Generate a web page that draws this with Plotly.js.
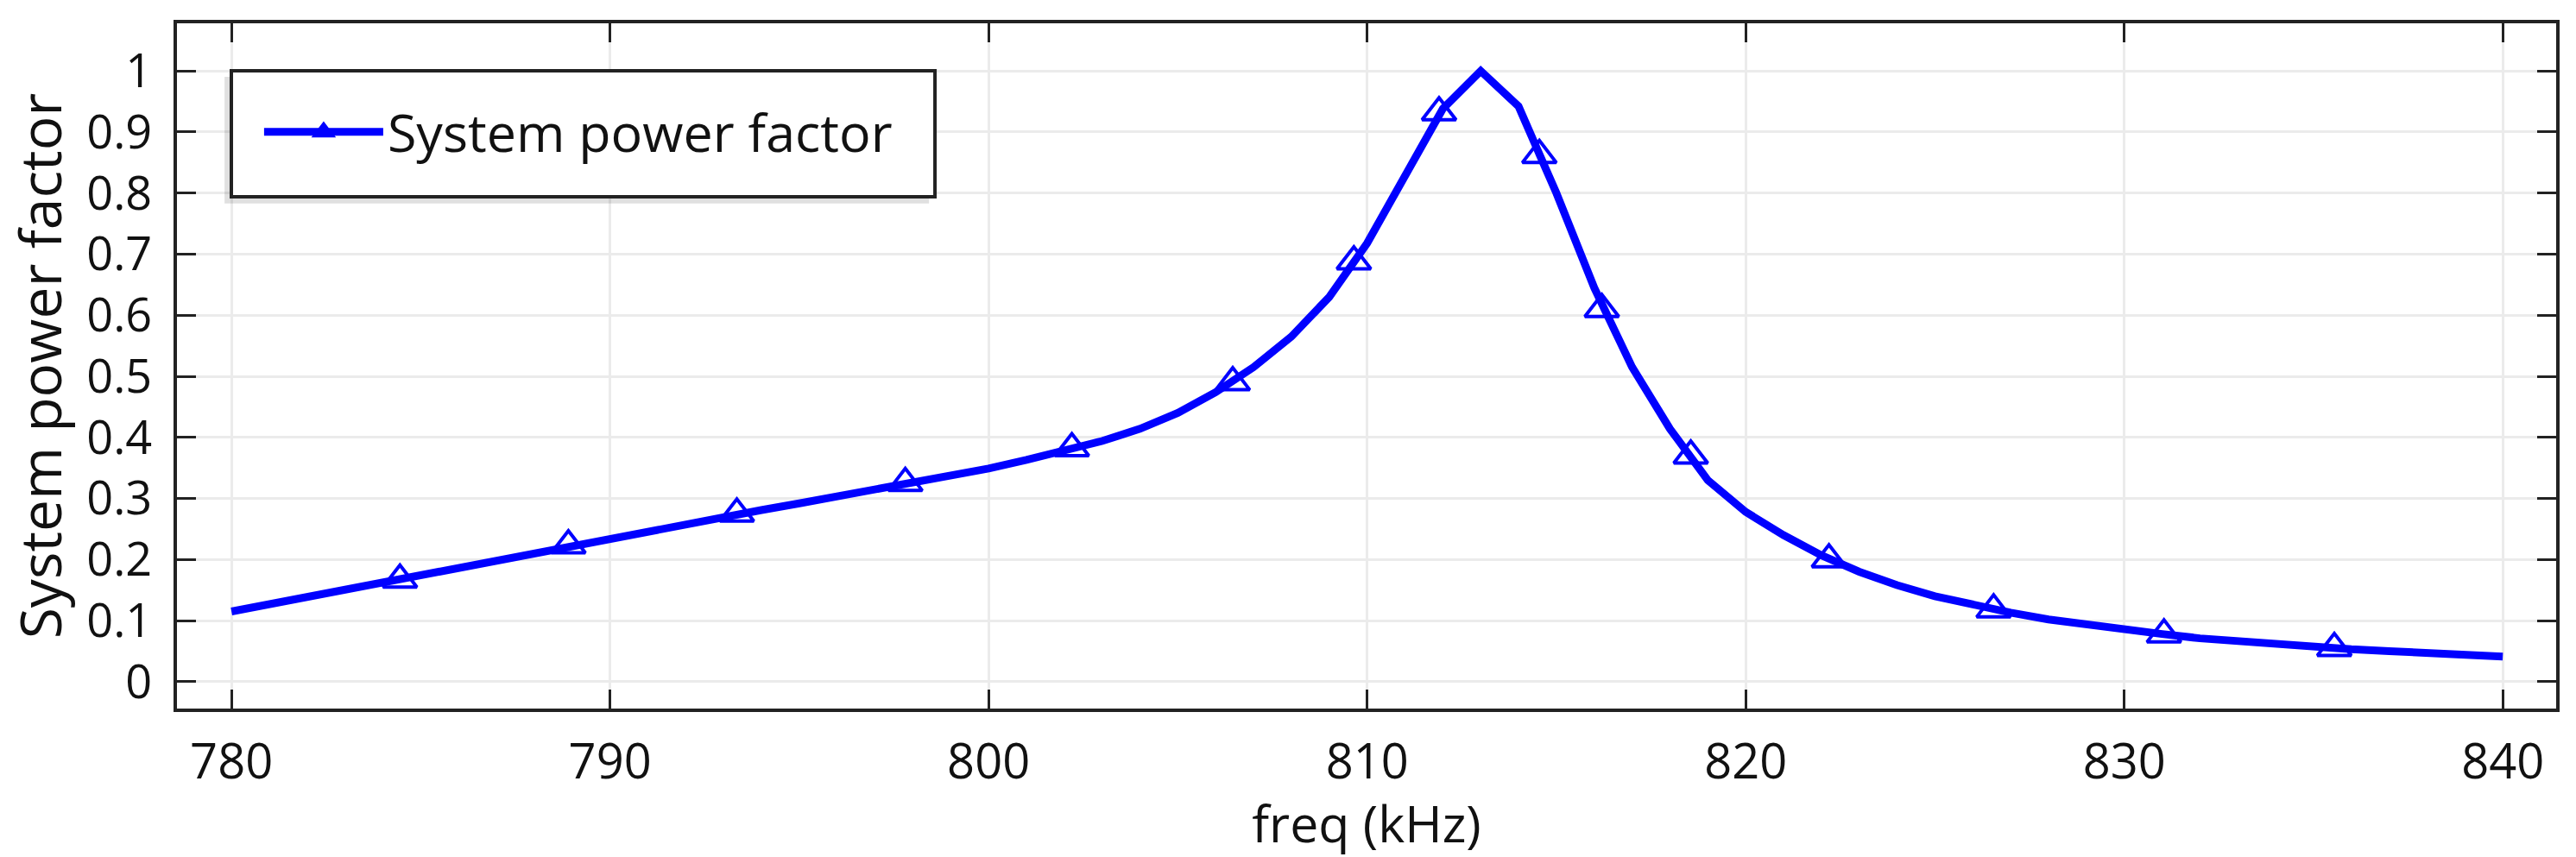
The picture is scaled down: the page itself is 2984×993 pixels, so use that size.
<!DOCTYPE html>
<html>
<head>
<meta charset="utf-8">
<script src="https://cdn.plot.ly/plotly-3.0.1.min.js"></script>
<style>
  html, body { margin: 0; padding: 0; background: #ffffff; }
  #chart { width: 2984px; height: 993px; }
</style>
</head>
<body>
<div id="chart"></div>
<script>
// Curve data: frequency (kHz) and system power factor
const freq = [780, 781, 782, 783, 784, 785, 786, 787, 788, 789,
              790, 791, 792, 793, 794, 795, 796, 797, 798, 799,
              800, 801, 802, 803, 804, 805, 806, 807, 808, 809,
              810, 811, 812, 813, 814, 815, 816, 817, 818, 819,
              820, 821, 822, 823, 824, 825, 826, 827, 828, 829,
              830, 831, 832, 833, 834, 835, 836, 837, 838, 839, 840];
const powerFactor = [0.115, 0.127, 0.140, 0.152, 0.164, 0.176, 0.188, 0.200, 0.212, 0.224,
                     0.235, 0.247, 0.258, 0.270, 0.281, 0.292, 0.303, 0.314, 0.325, 0.336,
                     0.349, 0.363, 0.378, 0.394, 0.414, 0.440, 0.474, 0.515, 0.565, 0.630,
                     0.718, 0.830, 0.938, 1.000, 0.942, 0.800, 0.645, 0.515, 0.414, 0.330,
                     0.278, 0.240, 0.207, 0.180, 0.158, 0.140, 0.125, 0.113, 0.102, 0.093,
                     0.085, 0.078, 0.071, 0.066, 0.061, 0.057, 0.053, 0.050, 0.047, 0.044, 0.041];

// Marker positions along the curve
const markerFreq = [784.45, 788.9, 793.35, 797.8, 802.2, 806.45, 809.65, 811.9,
                    814.55, 816.2, 818.55, 822.2, 826.55, 831.05, 835.55];
const markerPF = [0.167, 0.223, 0.275, 0.325, 0.382, 0.490, 0.688, 0.932,
                  0.862, 0.610, 0.370, 0.200, 0.118, 0.077, 0.055];

const seriesName = 'System power factor';
const xTitle = 'freq (kHz)';
const yTitle = 'System power factor';
const xTicks = [780, 790, 800, 810, 820, 830, 840];
const yTicks = [0, 0.1, 0.2, 0.3, 0.4, 0.5, 0.6, 0.7, 0.8, 0.9, 1];

const BLUE = '#0000ff';
const FONT = '"Open Sans", "Liberation Sans", sans-serif';

const traces = [
  {
    x: freq, y: powerFactor, type: 'scatter', mode: 'lines',
    line: { color: BLUE, width: 9 }, showlegend: false, hoverinfo: 'skip'
  },
  {
    x: markerFreq, y: markerPF, type: 'scatter', mode: 'markers',
    marker: { symbol: 'triangle-up-open', size: 34, color: BLUE, line: { color: BLUE, width: 4 } },
    showlegend: false, hoverinfo: 'skip'
  },
  {
    x: [null], y: [null], type: 'scatter', mode: 'lines+markers', name: seriesName,
    line: { color: BLUE, width: 9 },
    marker: { symbol: 'triangle-up-open', size: 34, color: BLUE, line: { color: BLUE, width: 5 } },
    showlegend: true
  }
];

const layout = {
  width: 2984, height: 993,
  paper_bgcolor: '#ffffff', plot_bgcolor: '#ffffff',
  margin: { l: 205, r: 23, t: 27, b: 172, pad: 0 },
  font: { family: FONT, color: '#111111', size: 56 },
  showlegend: true,
  legend: {
    x: 0.0348, xanchor: 'left', y: 0.8413, yanchor: 'middle',
    bgcolor: 'rgba(0,0,0,0)', borderwidth: 0,
    itemwidth: 138, font: { family: FONT, size: 61, color: '#111111' }
  },
  xaxis: {
    range: [778.56, 841.41], tickvals: xTicks, ticktext: xTicks.map(String),
    showgrid: true, gridcolor: '#ebebeb', gridwidth: 3,
    zeroline: false, showline: true, linecolor: '#222222', linewidth: 4, mirror: 'allticks',
    ticks: 'inside', ticklen: 22, tickwidth: 3, tickcolor: '#222222',
    ticklabelstandoff: 10,
    tickfont: { family: FONT, size: 56, color: '#111111' },
    title: { text: xTitle, font: { family: FONT, size: 59, color: '#111111' }, standoff: 10 }
  },
  yaxis: {
    range: [-0.044, 1.078], tickvals: yTicks, ticktext: yTicks.map(String),
    showgrid: true, gridcolor: '#ebebeb', gridwidth: 3,
    zeroline: false, showline: true, linecolor: '#222222', linewidth: 4, mirror: 'allticks',
    ticks: 'inside', ticklen: 22, tickwidth: 3, tickcolor: '#222222',
    ticklabelstandoff: 14,
    tickfont: { family: FONT, size: 54, color: '#111111' },
    title: { text: yTitle, font: { family: FONT, size: 66, color: '#111111' }, standoff: 16 }
  },
  shapes: [
    { type: 'rect', xref: 'paper', yref: 'paper', x0: 0.0200, x1: 0.3161, y0: 0.7370, y1: 0.9218,
      fillcolor: 'rgba(0,0,0,0.12)', line: { width: 0 }, layer: 'above' },
    { type: 'rect', xref: 'paper', yref: 'paper', x0: 0.02286, x1: 0.3186, y0: 0.7469, y1: 0.9307,
      fillcolor: '#ffffff', line: { color: '#222222', width: 4 }, layer: 'above' }
  ]
};

Plotly.newPlot('chart', traces, layout, { staticPlot: true, displayModeBar: false });
</script>
</body>
</html>
